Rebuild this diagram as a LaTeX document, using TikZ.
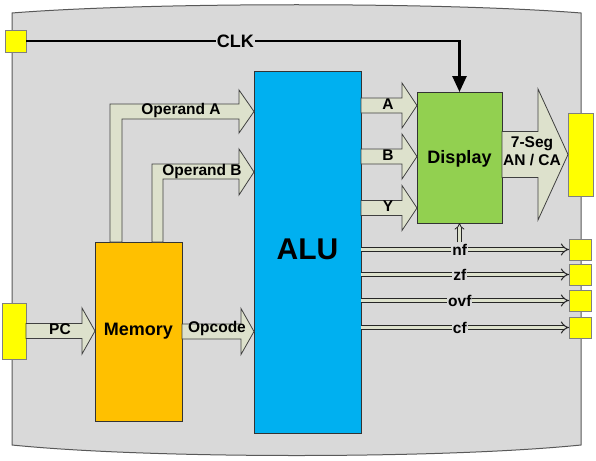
\documentclass[tikz,border=0pt]{standalone}
\usepackage{fontspec}
\setmainfont{Liberation Sans}
\usetikzlibrary{arrows.meta,calc}
\definecolor{bgc}{RGB}{217,217,217}
\definecolor{bdc}{RGB}{89,89,89}
\definecolor{arf}{RGB}{221,225,204}
\definecolor{aluc}{RGB}{0,176,240}
\definecolor{memc}{RGB}{255,192,0}
\definecolor{dispc}{RGB}{146,208,80}
\definecolor{ylw}{RGB}{255,255,0}
\newcommand\harrow[5]{%
  \path[blockarrow] let \p1=#1, \p2=#2 in
    (\x1,\y1+#3pt) -- (\x2-#5pt,\y1+#3pt) -- (\x2-#5pt,\y1+#4pt) -- (\x2,\y1)
    -- (\x2-#5pt,\y1-#4pt) -- (\x2-#5pt,\y1-#3pt) -- (\x1,\y1-#3pt) -- cycle;}
\begin{document}
\begin{tikzpicture}[x=1pt,y=-1pt,
  font=\bfseries,
  block/.style={draw=black!80,line width=0.8pt,inner sep=0pt,outer sep=0pt,anchor=north west},
  port/.style={draw=black!50,fill=ylw,line width=0.8pt,inner sep=0pt,outer sep=0pt,anchor=north west},
  blockarrow/.style={draw=black!75,fill=arf,line width=0.8pt,line join=miter},
  flag/.style={draw=black!85,line width=1pt,double=arf,double distance=3.2pt,-{Implies}},
  lbl/.style={font=\fontsize{15.5}{15.5}\selectfont\bfseries,inner sep=0.5pt},
  flbl/.style={font=\fontsize{15.5}{15.5}\selectfont\bfseries,inner sep=1pt,fill=bgc}]
\useasboundingbox (0,0) rectangle (596,460);
% background
\path[fill=bgc,draw=bdc,line width=1pt] (12,13) .. controls (150,2) and (443,2) .. (581,13)
  -- (581,445) .. controls (443,459) and (150,459) .. (12,445) -- cycle;
% blocks
\node[block,fill=aluc,minimum width=107pt,minimum height=362pt] (alu) at (254,71) {};
\node[font=\fontsize{30}{30}\selectfont\bfseries] (alut) at (307.5,249.5) {ALU};
\node[block,fill=memc,minimum width=87pt,minimum height=179pt] (mem) at (95,242) {};
\node[font=\fontsize{18}{18}\selectfont\bfseries] (memt) at (mem.center) {Memory};
\node[block,fill=dispc,minimum width=85pt,minimum height=131pt] (disp) at (417,92) {};
\node[font=\fontsize{18}{18}\selectfont\bfseries] (dispt) at ([yshift=-1pt]disp.center) {Display};
% ports
\node[port,minimum width=21pt,minimum height=22pt] (clk) at (5,30) {};
\node[port,minimum width=24pt,minimum height=56pt] (pcin) at (2,303) {};
\node[port,minimum width=25pt,minimum height=83pt] (out7) at (568,113) {};
\node[port,minimum width=22pt,minimum height=21pt] (nf) at (569,239) {};
\node[port,minimum width=22pt,minimum height=21pt] (zf) at (569,264) {};
\node[port,minimum width=22pt,minimum height=21pt] (ovf) at (569,290) {};
\node[port,minimum width=22pt,minimum height=21pt] (cf) at (569,317) {};
% operand arrows
\path[blockarrow] (mem.north west -| 110,0) -- (110,104) -- (239,104) -- (239,90) -- (alu.west |- 0,111.5)
  -- (239,133) -- (239,119) -- (122,119) -- (mem.north west -| 122,0) -- cycle;
\node[lbl] (opa) at (181,110) {Operand A};
\path[blockarrow] (mem.north west -| 152,0) -- (152,164) -- (239,164) -- (239,149) -- (alu.west |- 0,172)
  -- (239,195) -- (239,179) -- (163,179) -- (mem.north west -| 163,0) -- cycle;
\node[lbl] (opb) at (202,171) {Operand B};
% PC and Opcode
\harrow{(pcin.east)}{(mem.west |- pcin.east)}{7.5}{23}{13}
\node[lbl] (pct) at (60,329) {PC};
\harrow{(mem.east)}{(alu.west |- mem.east)}{7.5}{23}{13}
\node[lbl] (opc) at (217,328) {Opcode};
% A B Y
\coordinate (ya) at (0,105.5);
\coordinate (yb) at (0,156.5);
\coordinate (yy) at (0,208);
\harrow{(alu.east |- ya)}{(disp.west |- ya)}{7.5}{22.5}{15}
\harrow{(alu.east |- yb)}{(disp.west |- yb)}{7.5}{22.5}{15}
\harrow{(alu.east |- yy)}{(disp.west |- yy)}{7.5}{22.5}{15}
\node[lbl] (at) at (388,104) {A};
\node[lbl] (bt) at (388,155) {B};
\node[lbl] (yt) at (388,206) {Y};
% 7-seg
\harrow{(disp.east |- out7.west)}{(out7.west)}{23}{65.5}{30}
\node[lbl,align=center,font=\fontsize{15.5}{18}\selectfont\bfseries] (segt) at (532,151) {7-Seg\\AN / CA};
% flags
\draw[flag] (alu.east |- nf.west) -- node[flbl,pos=0.475] (nft) {nf} (nf.west);
\draw[flag] (alu.east |- zf.west) -- node[flbl,pos=0.475] (zft) {zf} (zf.west);
\draw[flag] (alu.east |- ovf.west) -- node[flbl,pos=0.475] (ovft) {ovf} (ovf.west);
\draw[flag] (alu.east |- cf.west) -- node[flbl,pos=0.475] (cft) {cf} (cf.west);
\draw[flag,line width=0.8pt,double distance=2.6pt] (disp.south |- nft.north) -- (disp.south);
% CLK
\draw[line width=2.6pt,-{Triangle[length=16pt,width=14pt]}] (clk.east)
  -- node[pos=0.483,fill=bgc,inner sep=1pt,font=\fontsize{18}{18}\selectfont\bfseries] (clkt) {CLK}
  (disp.north |- clk.east) -- (disp.north);
\end{tikzpicture}
\end{document}
